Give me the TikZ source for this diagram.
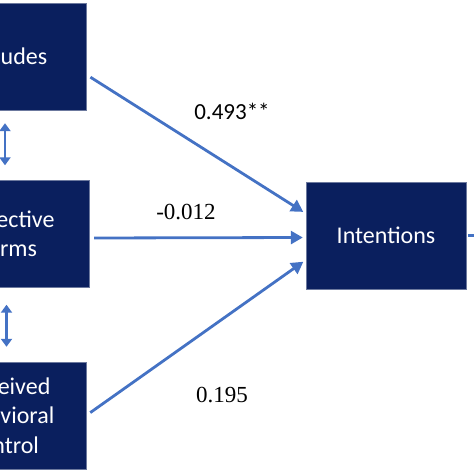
\documentclass[tikz,border=0pt]{standalone}
\usepackage{fontspec}
\setmainfont{Liberation Serif}
\newfontfamily\calibri{Carlito}
\usetikzlibrary{arrows.meta}
\definecolor{boxblue}{RGB}{10,31,94}
\definecolor{linkblue}{RGB}{68,114,196}

\begin{document}
\begin{tikzpicture}[x=1pt, y=-1pt,
  construct/.style={draw=boxblue!60!white, thin, fill=boxblue, text=white, align=center,
    minimum width=166pt, minimum height=107pt, font=\calibri\fontsize{24}{29.5}\selectfont},
  link/.style={linkblue, line width=2.8pt, -{Triangle[length=12pt,width=13pt]}, shorten <=5pt, shorten >=3pt},
  corr/.style={linkblue, line width=2.8pt, {Triangle[length=8pt,width=11pt]}-{Triangle[length=8pt,width=11pt]}},
  coef/.style={font=\fontsize{23}{27}\selectfont}]
  \clip (0,0) rectangle (474,474);
  \node[construct] (att) at (3,56.5) {Attitudes};
  \node[construct, minimum width=169pt] (sn) at (4.5,234) {Subjective\\Norms};
  \node[construct] (pbc) at (3,415.5) {Perceived\\Behavioral\\Control};
  \node[construct, minimum width=160pt] (int) at (386,235.5) {Intentions};
  \coordinate (beh) at (500,235.5);
  % correlations
  \draw[corr, shorten <=13pt, shorten >=15pt] ([xshift=2pt]att.south) -- ([xshift=2pt]att.south |- sn.north);
  \draw[corr, shorten <=17pt, shorten >=15pt] ([xshift=2pt]sn.south) -- ([xshift=2pt]sn.south |- pbc.north);
  % paths
  \draw[link] ([yshift=-18pt]att.east) -- ([yshift=22pt]int.west);
  \draw[link] ([yshift=-4pt]sn.east) -- ([yshift=-2pt]int.west);
  \draw[link] (pbc.east) -- ([yshift=-24.5pt]int.west);
  \draw[link, shorten <=2pt] (int.east) -- (beh);
  \node[coef, font=\calibri\fontsize{23}{27}\selectfont] (b1) at (232,111) {0.493**};
  \node[coef] (b2) at (186,212) {-0.012};
  \node[coef] (b3) at (222,395) {0.195};
\end{tikzpicture}
\end{document}
